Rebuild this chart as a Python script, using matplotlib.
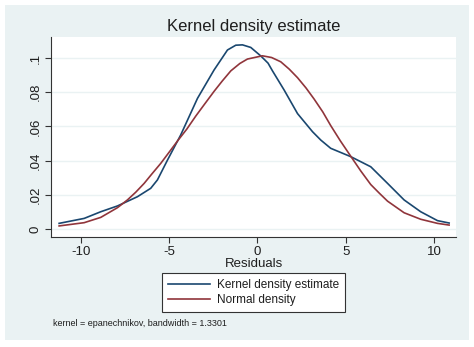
import matplotlib.pyplot as plt
from matplotlib.patches import Rectangle

plt.rcParams['font.family'] = ['Liberation Sans', 'DejaVu Sans']

# kernel density estimate of the residuals
kde_x = [-11.24, -9.82, -8.88, -7.93, -6.8, -6.05, -5.67, -5.1, -4.35, -3.4,
         -2.46, -1.7, -1.23, -0.85, -0.38, 0.19, 0.6, 0.85, 1.51, 2.27,
         3.12, 3.59, 4.15, 5.29, 6.42, 7.37, 8.31, 9.25, 10.2, 10.86]
kde_y = [0.0033, 0.0062, 0.0101, 0.0135, 0.0189, 0.0238, 0.0287, 0.0403, 0.0550, 0.0764,
         0.0930, 0.1047, 0.1075, 0.1077, 0.1062, 0.1012, 0.0970, 0.0925, 0.0813, 0.0675,
         0.0569, 0.0520, 0.0472, 0.0423, 0.0364, 0.0267, 0.0170, 0.0101, 0.0049, 0.0035]

# normal density overlay
norm_x = [-11.24, -9.82, -8.88, -7.93, -7.37, -6.9, -6.42, -6.0, -5.48, -5.0,
          -4.53, -4.0, -3.5, -3.0, -2.46, -2.0, -1.51, -1.0, -0.57, 0.28,
          0.8, 1.32, 1.8, 2.27, 2.75, 3.21, 3.7, 4.15, 4.7, 5.29,
          5.85, 6.42, 6.9, 7.37, 8.31, 9.25, 10.2, 10.86]
norm_y = [0.0018, 0.0037, 0.0068, 0.0125, 0.0170, 0.0215, 0.0267, 0.0320, 0.0384, 0.0450,
          0.0515, 0.0585, 0.0660, 0.0730, 0.0805, 0.0865, 0.0925, 0.0968, 0.0994, 0.1013,
          0.1003, 0.0978, 0.0935, 0.0885, 0.0825, 0.0760, 0.0685, 0.0605, 0.0515, 0.0425,
          0.0340, 0.0260, 0.0210, 0.0163, 0.0095, 0.0057, 0.0033, 0.0023]

xticks = [-10, -5, 0, 5, 10]
yticks = [0, 0.02, 0.04, 0.06, 0.08, 0.1]
ylabels = ['0', '.02', '.04', '.06', '.08', '.1']

bg = '#eaf2f3'
navy = '#1a476f'
maroon = '#90353b'
txt = '#1e1e1e'

fig = plt.figure(figsize=(4.74, 3.47), dpi=100, facecolor='white')
fig.patches.append(Rectangle((5 / 474, 1 - 340 / 347), 464 / 474, 335 / 347,
                             transform=fig.transFigure, facecolor=bg,
                             edgecolor='none', zorder=-10))

ax = fig.add_axes([51 / 474, 1 - 236.7 / 347, 405 / 474, 199.7 / 347])
ax.set_facecolor('white')
ax.plot(kde_x, kde_y, color=navy, lw=1.2, label='Kernel density estimate')
ax.plot(norm_x, norm_y, color=maroon, lw=1.2, label='Normal density')

ax.set_xlim(-11.7, 11.25)
ax.set_ylim(-0.0045, 0.1123)
ax.set_xticks(xticks)
ax.set_xticklabels([str(t) for t in xticks], fontsize=9.5, color=txt)
ax.set_yticks(yticks)
ax.set_yticklabels(ylabels, fontsize=9.5, color=txt, rotation=90, va='center')
ax.yaxis.grid(True, color=bg, lw=1.0)
ax.set_axisbelow(True)
ax.tick_params(length=4, width=0.8, color='#333333', pad=3)

for side in ['top', 'right']:
    ax.spines[side].set_visible(False)
for side in ['left', 'bottom']:
    ax.spines[side].set_color('#333333')
    ax.spines[side].set_linewidth(0.8)

ax.set_xlabel('Residuals', fontsize=9.5, color=txt, labelpad=0)
ax.set_title('Kernel density estimate', fontsize=12, color=txt, pad=4)

leg = fig.legend(loc='center', bbox_to_anchor=(253.5 / 474, 1 - 292.5 / 347),
                 fontsize=8.5, frameon=True, fancybox=False, handlelength=3.6,
                 handletextpad=0.6, borderpad=0.45, labelspacing=0.3,
                 framealpha=1)
leg.get_frame().set_facecolor('white')
leg.get_frame().set_edgecolor('#333333')
leg.get_frame().set_linewidth(0.8)
for t in leg.get_texts():
    t.set_color(txt)

fig.text(53 / 474, 1 - 323 / 347, 'kernel = epanechnikov, bandwidth = 1.3301',
         fontsize=6.5, color=txt, va='center')

fig.savefig('out.png', dpi=100, facecolor='white')
